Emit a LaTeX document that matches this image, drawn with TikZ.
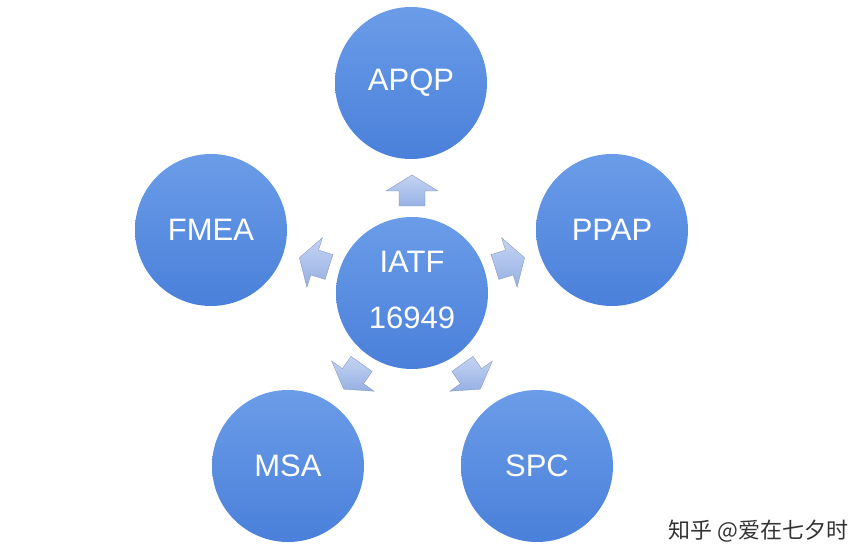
\documentclass[tikz,border=0pt]{standalone}
\usepackage{fontspec}
\setmainfont{Liberation Sans}
\newfontfamily\cjk{Noto Sans CJK SC}
\begin{document}
\begin{tikzpicture}[x=1pt,y=1pt,
  bub/.style={circle,minimum size=152pt,inner sep=0pt,top color=bubtop,bottom color=bubbot,draw=none,text=white,font=\fontsize{31}{36}\selectfont},
  arr/.style={top color=arrtop,bottom color=arrbot,draw=arrbot!80!black,line width=0.3pt}]
\definecolor{bubtop}{HTML}{6A9CE8}
\definecolor{bubbot}{HTML}{4A80DA}
\definecolor{arrtop}{HTML}{C4D3F2}
\definecolor{arrbot}{HTML}{97B1E4}
\useasboundingbox (0,0) rectangle (868,557);
\node[bub] (iatf) at (412,264) {\raisebox{-4pt}{\begin{tabular}{c}IATF\\[20pt]16949\end{tabular}}};
\node[bub] (apqp) at (411,474) {APQP};
\node[bub] (fmea) at (211,327) {FMEA};
\node[bub] (ppap) at (612,327) {PPAP};
\node[bub] (msa) at (288,91) {MSA};
\node[bub] (spc) at (537,91) {SPC};
\foreach \a in {90,17.4,162.6,234.6,305.4}{
  \begin{scope}[shift={(iatf.center)},rotate=\a]
   \path[arr] (87,-13) -- (102,-13) -- (102,-26) -- (118,0) -- (102,26) -- (102,13) -- (87,13) -- cycle;
  \end{scope}}
\node[anchor=east,text=black!80,font=\cjk\fontsize{22}{24}\selectfont] (wm) at (852,26) {知乎 @爱在七夕时};
\end{tikzpicture}
\end{document}
